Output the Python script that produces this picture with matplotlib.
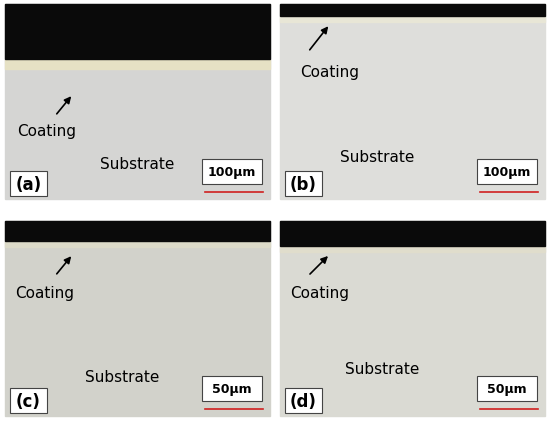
import matplotlib
matplotlib.use("Agg")
import matplotlib.pyplot as plt
from matplotlib.patches import Rectangle, FancyBboxPatch

W, H = 550, 427
panels = ["(a)", "(b)", "(c)", "(d)"]
origins = [(5, 5), (280, 5), (5, 222), (280, 222)]
pw, ph = 265, 195
black_h = [55, 12, 20, 25]
coat_h = [10, 6, 6, 6]
sub_col = ["#d5d5d3", "#dededb", "#d2d2cb", "#dadad3"]
coat_col = ["#e6e1c4", "#e8e6d6", "#dcdac8", "#e0ddcc"]
scales = ["100µm", "100µm", "50µm", "50µm"]
coat_txt = [(12, 127), (20, 68), (10, 72), (10, 72)]
arrow_from = [(50, 112), (28, 48), (50, 55), (28, 55)]
arrow_to = [(68, 90), (50, 20), (68, 33), (50, 33)]
sub_txt = [(95, 160), (60, 153), (80, 156), (65, 148)]

fig = plt.figure(figsize=(W / 100, H / 100), dpi=100)
ax = fig.add_axes([0, 0, 1, 1])
ax.set_xlim(0, W)
ax.set_ylim(H, 0)
ax.axis("off")

for i, (x0, y0) in enumerate(origins):
    ax.add_patch(Rectangle((x0, y0), pw, ph, color=sub_col[i], zorder=1))
    ax.add_patch(Rectangle((x0, y0 + black_h[i]), pw, coat_h[i], color=coat_col[i], zorder=2))
    ax.add_patch(Rectangle((x0, y0), pw, black_h[i], color="#0a0a0a", zorder=3))
    # panel label
    ax.add_patch(Rectangle((x0 + 5, y0 + 167), 37, 25, facecolor="white", edgecolor="#444", lw=0.8, zorder=4))
    ax.text(x0 + 23.5, y0 + 180, panels[i], ha="center", va="center", fontsize=12, fontweight="bold", zorder=5)
    # scale bar
    ax.add_patch(Rectangle((x0 + 197, y0 + 155), 60, 25, facecolor="white", edgecolor="#444", lw=0.8, zorder=4))
    ax.text(x0 + 227, y0 + 167.5, scales[i], ha="center", va="center", fontsize=9, fontweight="bold", zorder=5)
    ax.plot([x0 + 200, x0 + 258], [y0 + 188, y0 + 188], color="#d02020", lw=1.2, zorder=5)
    ax.text(x0 + coat_txt[i][0], y0 + coat_txt[i][1], "Coating", fontsize=11, va="center", zorder=5)
    ax.text(x0 + sub_txt[i][0], y0 + sub_txt[i][1], "Substrate", fontsize=11, va="center", zorder=5)
    ax.annotate("", xy=(x0 + arrow_to[i][0], y0 + arrow_to[i][1]),
                xytext=(x0 + arrow_from[i][0], y0 + arrow_from[i][1]),
                arrowprops=dict(arrowstyle="-|>", color="black", lw=1.2), zorder=5)

fig.savefig("out.png", dpi=100, facecolor="white")
